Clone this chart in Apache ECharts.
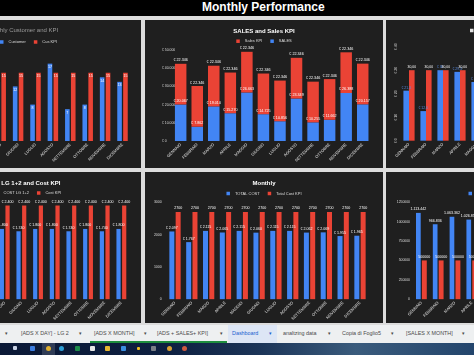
<!DOCTYPE html>
<html><head><meta charset="utf-8">
<script src="https://cdn.jsdelivr.net/npm/echarts@6/dist/echarts.min.js"></script>
<style>
html,body{margin:0;padding:0;width:474px;height:355px;overflow:hidden;background:#dcdcdc;font-family:'Liberation Sans',Arial,sans-serif;}
.panel{position:absolute;background:#1f1f1f;overflow:hidden;}
.chart{position:absolute;top:0;}
#titlebar{position:absolute;left:0;top:0;width:474px;height:16px;background:#000;}
#maintitle{position:absolute;left:202px;top:0;height:15px;line-height:15px;color:#fff;font-weight:bold;font-size:12px;white-space:nowrap;}
#tabbar{position:absolute;left:0;top:325px;width:474px;height:18px;background:#eef0f1;}
.tab{position:absolute;top:0;height:18px;line-height:17px;font-size:5.4px;color:#4a4a4a;white-space:nowrap;}
#taskbar{position:absolute;left:0;top:343px;width:474px;height:12px;background:linear-gradient(to right,#0b1936 0%,#0d1f40 35%,#1c3558 55%,#3a5b7c 75%,#23456c 100%);}
.ic{position:absolute;top:3px;width:5px;height:5px;border-radius:1px;}
</style>
</head><body>
<div id="titlebar"><div id="maintitle">Monthly Performance</div></div>

<div class="panel" style="left:0;top:20px;width:141px;height:148px;"><div id="c1" class="chart" style="left:-100px;width:241px;height:148px;"></div></div>
<div class="panel" style="left:145px;top:20px;width:238px;height:148px;"><div id="c2" class="chart" style="left:0;width:238px;height:148px;"></div></div>
<div class="panel" style="left:386px;top:20px;width:88px;height:148px;"><div id="c3" class="chart" style="left:0;width:300px;height:148px;"></div></div>
<div class="panel" style="left:0;top:172px;width:141px;height:151px;"><div id="c4" class="chart" style="left:-100px;width:241px;height:151px;"></div></div>
<div class="panel" style="left:145px;top:172px;width:238px;height:151px;"><div id="c5" class="chart" style="left:0;width:238px;height:151px;"></div></div>
<div class="panel" style="left:386px;top:172px;width:88px;height:151px;"><div id="c6" class="chart" style="left:0;width:300px;height:151px;"></div></div>

<div id="tabbar">
  <div style="position:absolute;left:228px;top:0;width:49px;height:18px;background:#dde6f5;"></div>
  <div style="position:absolute;left:90px;top:16px;width:137px;height:1.5px;background:#1e8e3e;"></div>
  <div class="tab" style="left:5px;">▾</div>
  <div class="tab" style="left:21px;">[ADS X DAY] - LG 2</div>
  <div class="tab" style="left:79px;">▾</div>
  <div class="tab" style="left:94px;">[ADS X MONTH]</div>
  <div class="tab" style="left:144px;">▾</div>
  <div class="tab" style="left:157px;">[ADS + SALES+ KPI]</div>
  <div class="tab" style="left:220px;">▾</div>
  <div class="tab" style="left:232px;color:#1a5fd0;">Dashboard</div>
  <div class="tab" style="left:269px;color:#1a5fd0;">▾</div>
  <div class="tab" style="left:283px;">analtzing data</div>
  <div class="tab" style="left:328px;">▾</div>
  <div class="tab" style="left:342px;">Copia di Foglio5</div>
  <div class="tab" style="left:391px;">▾</div>
  <div class="tab" style="left:406px;">[SALES X MONTH]</div>
  <div class="tab" style="left:462px;">▾</div>
</div>
<div id="taskbar">
  <div style="position:absolute;left:42px;top:0;width:13px;height:12px;background:rgba(255,255,255,0.15);"></div>
  <div class="ic" style="left:13px;background:#c9d3e6;width:4px;height:4px;"></div>
  <div class="ic" style="left:30px;background:#3b7de0;"></div>
  <div class="ic" style="left:46px;background:#e0b030;border-radius:3px;"></div>
  <div class="ic" style="left:59px;background:#2ea0d8;border-radius:3px;"></div>
  <div class="ic" style="left:75px;background:#1d8c4a;"></div>
  <div class="ic" style="left:90px;background:#e8e8e8;"></div>
  <div class="ic" style="left:105px;background:#e8b830;"></div>
  <div class="ic" style="left:121px;background:#3a8ee0;"></div>
  <div class="ic" style="left:137px;background:#f0c020;width:3px;height:3px;top:4px;"></div>
  <div class="ic" style="left:151px;background:#7a7f88;"></div>
  <div class="ic" style="left:167px;background:#d9a030;border-radius:3px;"></div>
  <div class="ic" style="left:182px;background:#d05a40;border-radius:3px;"></div>
</div>

<script>
// ---- data ----
var months = ['GENNAIO','FEBBRAIO','MARZO','APRILE','MAGGIO','GIUGNO','LUGLIO','AGOSTO','SETTEMBRE','OTTOBRE','NOVEMBRE','DICEMBRE'];

var customers   = [10, 9, 12, 11, 13, 12, 8, 17, 7, 8, 14, 13];
var customerKpi = [15, 15, 15, 15, 15, 15, 15, 15, 15, 15, 15, 15];

var sales    = [20067, 7862, 19010, 15270, 26663, 14725, 10856, 23349, 10255, 11662, 26388, 20157];
var salesKpi = [22346, 22346, 22346, 22346, 22346, 22346, 22346, 22346, 22346, 22346, 22346, 22346];

var adsCost    = [21.3, 12.6, 30, 29.3, 25, 22, 18, 27, 20, 19, 26, 24];
var adsCostKpi = [30, 30, 30, 30, 30, 30, 30, 30, 30, 30, 30, 30];

var costLg  = [1800, 1740, 1800, 1800, 1800, 1740, 1800, 1800, 1740, 1800, 1740, 1800];
var costKpi = [2400, 2400, 2400, 2400, 2400, 2400, 2400, 2400, 2400, 2400, 2400, 2400];

var totalCost    = [2097, 1767, 2115, 2065, 2115, 2060, 2115, 2115, 2062, 2069, 1955, 1965];
var totalCostKpi = [2700, 2700, 2700, 2700, 2700, 2700, 2700, 2700, 2700, 2700, 2700, 2700];

var impressions    = [1113442, 966836, 1063362, 1026850, 990000, 1010000, 950000, 1040000, 980000, 1000000, 1050000, 1020000];
var impressionsKpi = [500000, 500000, 500000, 500000, 500000, 500000, 500000, 500000, 500000, 500000, 500000, 500000];

// ---- helpers ----
var BLUE = '#4285f4', RED = '#ea4335';
var FONT = "'Liberation Sans', Arial, sans-serif";
function dots(v){ return String(v).replace(/\B(?=(\d{3})+(?!\d))/g, '.'); }
function euro(v){ return '€ ' + dots(v); }
function plain(v){ return String(v); }

function xAx(){
  return {type:'category', data:months, axisLine:{show:false}, axisTick:{show:false},
    axisLabel:{rotate:45, interval:0, fontSize:4, color:'#e6e6e6', margin:3, fontFamily:FONT}};
}
function legend(o){
  return Object.assign({icon:'rect', itemWidth:3.5, itemHeight:3.5, itemGap:8, padding:0,
    textStyle:{fontSize:4, color:'#dedede', fontFamily:FONT}}, o);
}
function ttl(text, left, top, bold, color){
  return {text:text, left:left, top:top, padding:0,
    textStyle:{fontSize:6, fontWeight:bold?'bold':'normal', color:color||'#fff', fontFamily:FONT}};
}
function lbl(pos, color, fmt, size){
  return {show:true, position:pos, color:color||'#fff', fontSize:size||3.7, distance:1.5, fontFamily:FONT,
    formatter: function(p){ return fmt ? fmt(p.value) : p.value; }};
}
function mk(id, opt){
  var c = echarts.init(document.getElementById(id), null, {renderer:'canvas'});
  opt.animation = false;
  opt.textStyle = {fontFamily:FONT};
  c.setOption(opt);
}

// Panel 1: Monthly Customer and KPI
mk('c1', {
  title: ttl('Monthly Customer and KPI', 86.5, 7, false, '#9a9a9a'),
  legend: legend({left:100, top:20, data:['Customer','Cus KPI']}),
  grid:{left:22.4, right:9.8, top:30, bottom:27},
  xAxis: xAx(),
  yAxis:{type:'value', min:0, max:20, interval:5, splitLine:{show:false}, axisLabel:{fontSize:3.6, color:'#ccc'}},
  series:[
    {name:'Customer', type:'bar', data:customers, barWidth:4.6, barGap:'28%', itemStyle:{color:BLUE}, label:lbl('insideTop','#fff',null,3.6)},
    {name:'Cus KPI', type:'bar', data:customerKpi, barWidth:4.6, itemStyle:{color:RED}, label:lbl('insideTop','#fff',null,3.6)}
  ]
});

// Panel 2: SALES and Sales KPI
mk('c2', {
  title: ttl('SALES and Sales KPI', 'center', 8.7, true),
  legend: legend({left:'center', top:19.2, data:['Sales KPI','SALES']}),
  grid:{left:27.4, right:12, top:30, bottom:27},
  xAxis: xAx(),
  yAxis:{type:'value', min:0, max:50000, interval:10000, splitLine:{show:false},
    axisLabel:{fontSize:3.4, color:'#dedede', align:'left', margin:10.4, formatter:euro}},
  series:[
    {name:'SALES', type:'bar', stack:'s', data:sales, barWidth:11.5, itemStyle:{color:BLUE}, label:lbl('top','#fff',euro)},
    {name:'Sales KPI', type:'bar', stack:'s', data:salesKpi, barWidth:11.5, itemStyle:{color:RED}, label:lbl('top','#fff',euro)}
  ]
});

// Panel 3: ADS cost vs KPI
mk('c3', {
  legend: legend({left:84, top:8.5, data:[{name:'ADS Cost', itemStyle:{color:'#e0e0e0'}},'ADS KPI']}),
  grid:{left:14.5, right:81.5, top:26.7, bottom:27.3},
  xAxis: xAx(),
  yAxis:{type:'value', min:0, max:40, interval:10, splitLine:{show:false},
    axisLabel:{fontSize:3.4, color:'#cfcfcf', rotate:90, margin:3, formatter:function(v){return '€ '+v;}}},
  series:[
    {name:'ADS Cost', type:'bar', data:adsCost, barWidth:5.6, barGap:'0%', itemStyle:{color:BLUE},
      label:lbl('top','#5a8fe8',function(v){return '€ '+String(v).replace('.',',');},3.4)},
    {name:'ADS KPI', type:'bar', data:adsCostKpi, barWidth:5.6, itemStyle:{color:RED},
      label:lbl('top','#fff',function(v){return v+',00';},3.4)}
  ]
});

// Panel 4: COST LG 1+2 and Cost KPI
mk('c4', {
  title: ttl('COST LG 1+2 and Cost KPI', 83, 8.3, true),
  legend: legend({left:95, top:19, data:['COST LG 1+2','Cost KPI']}),
  grid:{left:29.7, right:11.3, top:10.1, bottom:21.3},
  xAxis: xAx(),
  yAxis:{type:'value', min:0, max:3000, interval:1000, splitLine:{show:false}, axisLabel:{fontSize:3.6, color:'#ccc', formatter:plain}},
  series:[
    {name:'COST LG 1+2', type:'bar', data:costLg, barWidth:4.2, barGap:'35%', itemStyle:{color:BLUE}, label:lbl('top','#fff',euro,3.6)},
    {name:'Cost KPI', type:'bar', data:costKpi, barWidth:4.2, itemStyle:{color:RED}, label:lbl('top','#fff',euro,3.6)}
  ]
});

// Panel 5: Monthly total cost
mk('c5', {
  title: ttl('Monthly', 'center', 8.3, true),
  legend: legend({left:'center', top:19.5, data:['TOTAL COST','Total Cost KPI']}),
  grid:{left:21.6, right:14.6, top:30.3, bottom:20.7},
  xAxis: xAx(),
  yAxis:{type:'value', min:0, max:3000, interval:1000, splitLine:{show:false},
    axisLabel:{fontSize:3.5, color:'#dedede', margin:4.9, formatter:plain}},
  series:[
    {name:'TOTAL COST', type:'bar', data:totalCost, barWidth:5, barGap:'26%', itemStyle:{color:BLUE}, label:lbl('top','#fff',euro,3.6)},
    {name:'Total Cost KPI', type:'bar', data:totalCostKpi, barWidth:5, itemStyle:{color:RED}, label:lbl('top','#fff',plain,3.6)}
  ]
});

// Panel 6: impressions vs KPI
mk('c6', {
  legend: legend({left:82.5, top:19.5, data:['Impressions','Impressions KPI']}),
  grid:{left:27, right:71.4, top:30.3, bottom:21.3},
  xAxis: xAx(),
  yAxis:{type:'value', min:0, max:1250000, interval:250000, splitLine:{show:false},
    axisLabel:{fontSize:3.4, color:'#dedede', margin:3, formatter:plain}},
  series:[
    {name:'Impressions', type:'bar', data:impressions, barWidth:4.7, barGap:'25%', itemStyle:{color:BLUE}, label:lbl('top','#fff',dots,3.6)},
    {name:'Impressions KPI', type:'bar', data:impressionsKpi, barWidth:4.9, itemStyle:{color:RED}, label:lbl('top','#fff',plain,3.6)}
  ]
});
</script>
</body></html>
